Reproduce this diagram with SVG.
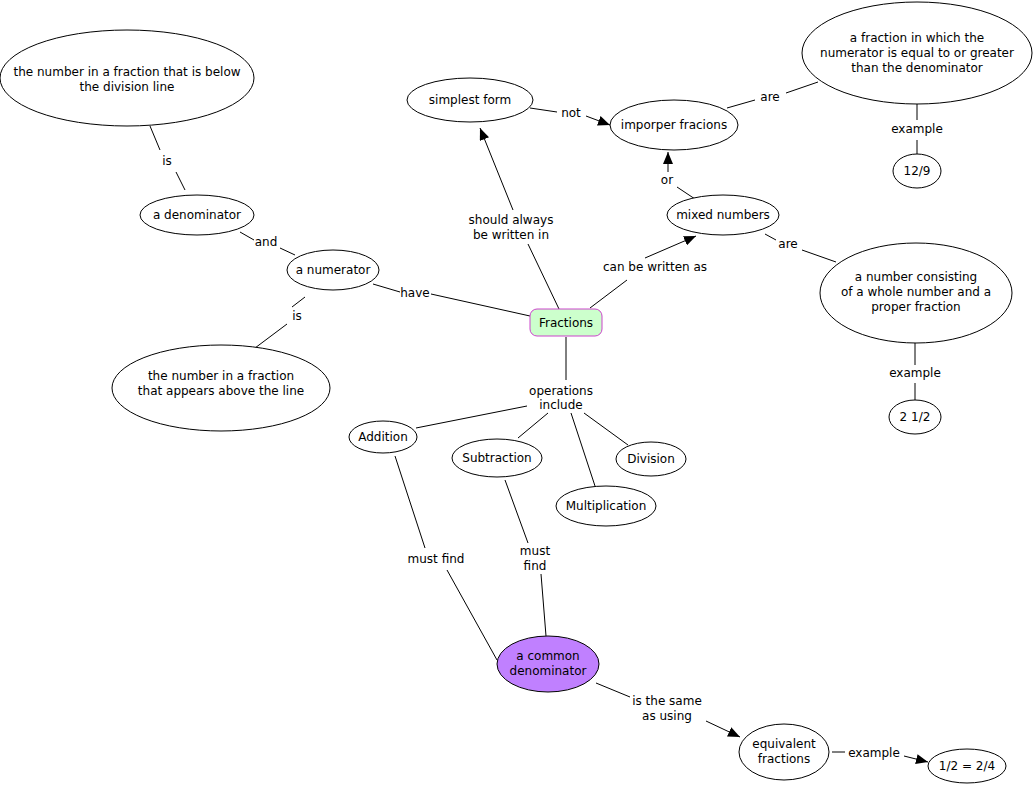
<svg xmlns="http://www.w3.org/2000/svg" width="1035" height="785" viewBox="0 0 1035 785">
<defs>
<marker id="arr" viewBox="0 0 12 10" refX="12" refY="5" markerWidth="12" markerHeight="10" markerUnits="userSpaceOnUse" orient="auto">
<path d="M0,0 L12,5 L0,10 Z" fill="#000"/>
</marker>
<style>
.n{fill:#fff;stroke:#000;stroke-width:1}
text{font-family:"DejaVu Sans",Verdana,sans-serif;font-size:12px;fill:#000;text-anchor:middle}
.c line,.c polyline{stroke:#000;stroke-width:1;fill:none}
.a{marker-end:url(#arr)}
</style>
</defs>
<rect width="1035" height="785" fill="#fff"/>
<g class="c" id="connectors">
<line x1="150" y1="126" x2="160" y2="150"/><line x1="176" y1="172" x2="185" y2="190"/>
<line x1="240" y1="232" x2="254" y2="240"/><line x1="280" y1="248" x2="295" y2="255"/>
<line x1="305" y1="297" x2="292" y2="307"/><line x1="287" y1="324" x2="255" y2="348"/>
<line x1="373" y1="284" x2="400" y2="292"/><line x1="431" y1="294" x2="530" y2="316"/>
<line x1="559" y1="309" x2="528" y2="244"/><line class="a" x1="513" y1="210" x2="480" y2="128"/>
<line x1="530" y1="108" x2="557" y2="112"/><line class="a" x1="586" y1="116" x2="610" y2="125"/>
<line x1="590" y1="308" x2="627" y2="280"/><line class="a" x1="645" y1="258" x2="696" y2="236"/>
<line x1="698" y1="201" x2="677" y2="187"/><line class="a" x1="668" y1="172" x2="668" y2="152"/>
<line x1="727" y1="108" x2="755" y2="100"/><line x1="786" y1="93" x2="818" y2="82"/>
<line x1="917" y1="104" x2="917" y2="120"/><line x1="917" y1="140" x2="917" y2="154"/>
<line x1="765" y1="234" x2="776" y2="240"/><line x1="802" y1="250" x2="836" y2="262"/>
<line x1="915" y1="343" x2="915" y2="365"/><line x1="915" y1="383" x2="915" y2="400"/>
<line x1="566" y1="337" x2="566" y2="380"/>
<line x1="527" y1="406" x2="416" y2="428"/>
<line x1="548" y1="413" x2="518" y2="438"/>
<line x1="571" y1="413" x2="595" y2="486"/>
<line x1="584" y1="413" x2="628" y2="445"/>
<line x1="395" y1="456" x2="425" y2="548"/><line x1="447" y1="570" x2="497" y2="660"/>
<line x1="505" y1="480" x2="528" y2="543"/><line x1="541" y1="574" x2="546" y2="636"/>
<line x1="596" y1="683" x2="630" y2="697"/><line class="a" x1="706" y1="721" x2="740" y2="737"/>
<line x1="832" y1="752" x2="845" y2="752"/><line class="a" x1="904" y1="756" x2="928" y2="762"/>
</g>
<g id="labels">
<text x="167" y="165">is</text>
<text x="266" y="246">and</text>
<text x="297" y="320">is</text>
<text x="415" y="297">have</text>
<text x="511" y="224">should always</text><text x="511" y="239">be written in</text>
<text x="571" y="117">not</text>
<text x="655" y="271">can be written as</text>
<text x="667" y="184">or</text>
<text x="770" y="101">are</text>
<text x="917" y="133">example</text>
<text x="788" y="248">are</text>
<text x="915" y="377">example</text>
<text x="561" y="395">operations</text><text x="561" y="409">include</text>
<text x="436" y="563">must find</text>
<text x="535" y="555">must</text><text x="535" y="570">find</text>
<text x="667" y="705">is the same</text><text x="667" y="720">as using</text>
<text x="874" y="757">example</text>
</g>
<g id="n-below"><ellipse class="n" cx="127" cy="78" rx="127" ry="48"/><text x="127" y="76">the number in a fraction that is below</text><text x="127" y="91">the division line</text></g>
<g id="n-denominator"><ellipse class="n" cx="197" cy="215" rx="57" ry="20"/><text x="197" y="219">a denominator</text></g>
<g id="n-numerator"><ellipse class="n" cx="333" cy="270" rx="46" ry="20"/><text x="333" y="274">a numerator</text></g>
<g id="n-above"><ellipse class="n" cx="221" cy="388" rx="109" ry="43"/><text x="221" y="380">the number in a fraction</text><text x="221" y="395">that appears above the line</text></g>
<g id="n-simplest"><ellipse class="n" cx="470" cy="100" rx="63" ry="22"/><text x="470" y="104">simplest form</text></g>
<g id="n-improper"><ellipse class="n" cx="674" cy="125" rx="64" ry="25"/><text x="674" y="129">imporper fracions</text></g>
<g id="n-def-improper"><ellipse class="n" cx="917" cy="53" rx="115" ry="51"/><text x="917" y="42">a fraction in which the</text><text x="917" y="57">numerator is equal to or greater</text><text x="917" y="72">than the denominator</text></g>
<g id="n-129"><ellipse class="n" cx="917" cy="171" rx="24" ry="17"/><text x="917" y="175">12/9</text></g>
<g id="n-mixed"><ellipse class="n" cx="723" cy="215" rx="56" ry="20"/><text x="723" y="219">mixed numbers</text></g>
<g id="n-def-mixed"><ellipse class="n" cx="916" cy="293" rx="96" ry="50"/><text x="916" y="281">a number consisting</text><text x="916" y="296">of a whole number and a</text><text x="916" y="311">proper fraction</text></g>
<g id="n-212"><ellipse class="n" cx="915" cy="417" rx="26" ry="17"/><text x="915" y="421">2 1/2</text></g>
<g id="n-fractions"><rect x="530" y="309" width="72" height="27" rx="7" fill="#ccffcc" stroke="#cc44cc" stroke-width="1"/><text x="566" y="327">Fractions</text></g>
<g id="n-addition"><ellipse class="n" cx="383" cy="437" rx="34" ry="16"/><text x="383" y="441">Addition</text></g>
<g id="n-subtraction"><ellipse class="n" cx="497" cy="458" rx="45" ry="19"/><text x="497" y="462">Subtraction</text></g>
<g id="n-division"><ellipse class="n" cx="651" cy="459" rx="35" ry="17"/><text x="651" y="463">Division</text></g>
<g id="n-multiplication"><ellipse class="n" cx="606" cy="506" rx="50" ry="20"/><text x="606" y="510">Multiplication</text></g>
<g id="n-common"><ellipse cx="548" cy="664" rx="51" ry="28" fill="#c080ff" stroke="#000"/><text x="548" y="660">a common</text><text x="548" y="675">denominator</text></g>
<g id="n-equivalent"><ellipse class="n" cx="784" cy="752" rx="45" ry="28"/><text x="784" y="748">equivalent</text><text x="784" y="763">fractions</text></g>
<g id="n-half"><ellipse class="n" cx="967" cy="766" rx="39" ry="17"/><text x="967" y="770">1/2 = 2/4</text></g>
</svg>
